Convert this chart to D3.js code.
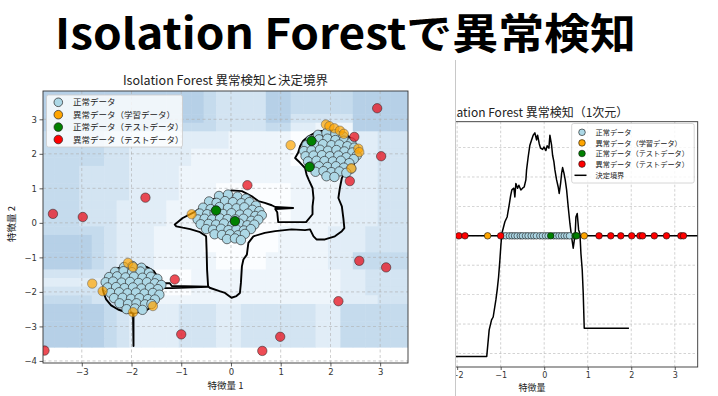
<!DOCTYPE html>
<html>
<head>
<meta charset="utf-8">
<script src="https://cdn.jsdelivr.net/npm/d3@7"></script>
<style>
  body { margin: 0; background: #fff; }
  svg { display: block; font-family: "Noto Sans CJK JP", "Noto Sans", sans-serif; }
</style>
</head>
<body>
<svg id="chart" width="718" height="396"></svg>
<script>
// ---- 2D chart data (feature 1, feature 2) ----
var normal2d = [
  [-0.24,0.78],[-0.06,0.82],[0.13,0.76],[0.3,0.7],
  [-0.44,0.62],[-0.29,0.58],[-0.12,0.63],[0.04,0.6],[0.21,0.57],[0.37,0.6],[0.5,0.5],
  [-0.56,0.44],[-0.41,0.4],[-0.23,0.46],[-0.06,0.43],[0.11,0.42],[0.27,0.45],[0.43,0.38],[0.57,0.34],
  [-0.63,0.27],[-0.48,0.25],[-0.33,0.29],[-0.16,0.26],[0.01,0.28],[0.18,0.24],[0.34,0.27],[0.49,0.2],[0.62,0.22],
  [-0.67,0.1],[-0.53,0.12],[-0.38,0.1],[-0.22,0.13],[-0.07,0.11],[0.09,0.1],[0.25,0.12],[0.41,0.06],[0.55,0.09],
  [-0.61,-0.04],[-0.45,-0.03],[-0.3,-0.05],[-0.14,-0.02],[0.03,-0.06],[0.17,-0.02],[0.33,-0.07],[0.47,-0.05],
  [-0.5,-0.18],[-0.36,-0.2],[-0.2,-0.17],[-0.05,-0.21],[0.11,-0.19],[0.26,-0.22],[0.4,-0.18],
  [-0.33,-0.33],[-0.18,-0.35],[-0.02,-0.33],[0.14,-0.36],[0.28,-0.32],
  [-0.08,-0.47],[0.08,-0.45],[0.2,-0.5],
  [1.75,2.55],[1.92,2.6],[2.1,2.57],[2.26,2.5],
  [1.6,2.4],[1.77,2.42],[1.94,2.44],[2.1,2.4],[2.27,2.38],[2.42,2.33],
  [1.52,2.25],[1.68,2.26],[1.85,2.28],[2.02,2.25],[2.18,2.27],[2.34,2.22],[2.48,2.18],
  [1.47,2.08],[1.62,2.1],[1.79,2.12],[1.95,2.09],[2.12,2.11],[2.28,2.07],[2.44,2.04],[2.53,1.95],
  [1.5,1.93],[1.66,1.95],[1.83,1.96],[1.99,1.93],[2.16,1.95],[2.32,1.9],[2.47,1.85],
  [1.55,1.78],[1.72,1.8],[1.88,1.79],[2.05,1.78],[2.21,1.8],[2.38,1.73],
  [1.6,1.63],[1.77,1.64],[1.94,1.62],[2.11,1.64],[2.27,1.6],[2.42,1.57],
  [1.7,1.48],[1.86,1.5],[2.02,1.47],[2.18,1.49],[2.32,1.45],
  [1.92,1.35],[2.08,1.33],
  [-2.15,-1.28],[-1.98,-1.25],[-1.8,-1.3],
  [-2.33,-1.42],[-2.16,-1.4],[-1.99,-1.43],[-1.82,-1.41],[-1.65,-1.45],
  [-2.45,-1.57],[-2.29,-1.55],[-2.12,-1.58],[-1.95,-1.56],[-1.78,-1.59],[-1.61,-1.56],[-1.48,-1.62],
  [-2.52,-1.72],[-2.37,-1.7],[-2.2,-1.73],[-2.03,-1.71],[-1.86,-1.74],[-1.69,-1.72],[-1.53,-1.75],[-1.4,-1.8],
  [-2.48,-1.87],[-2.31,-1.86],[-2.14,-1.89],[-1.97,-1.87],[-1.8,-1.9],[-1.63,-1.88],[-1.47,-1.92],
  [-2.42,-2.03],[-2.25,-2.01],[-2.08,-2.04],[-1.91,-2.02],[-1.74,-2.05],[-1.57,-2.03],[-1.44,-2.08],
  [-2.35,-2.18],[-2.18,-2.17],[-2.01,-2.2],[-1.84,-2.18],[-1.67,-2.21],[-1.53,-2.22],
  [-2.24,-2.33],[-2.07,-2.35],[-1.9,-2.33],[-1.73,-2.36],[-1.6,-2.35],
  [-2.1,-2.5],[-1.93,-2.48],[-1.78,-2.52]
];
var trainAnom2d = [
  [-0.79,0.25],
  [1.91,2.85],[1.98,2.8],[2.08,2.74],[2.19,2.67],[2.27,2.58],[1.2,2.25],[2.56,2.15],[2.58,2.05],[2.42,1.58],
  [-2.07,-1.16],[-1.97,-1.28],[-2.79,-1.76],[-2.58,-1.98],[-1.57,-2.41],[-1.97,-2.59]
];
var testNormal2d = [[-0.3,0.36],[0.08,0.05],[1.62,2.37],[1.58,1.62]];
var testAnom2d = [
  [-3.58,0.26],[-2.98,0.17],[-1.72,0.73],[2.94,3.32],[2.48,2.49],[3.02,1.93],[2.39,1.21],[0.33,1.09],
  [-1.13,-1.64],[-1.0,-3.23],[-3.75,-3.7],[2.58,-1.1],[3.12,-1.29],[2.16,-2.27],[0.99,-3.3],[0.63,-3.71]
];

// anomaly score shade level per 0.25 x 0.25 cell
// columns from x = -3.8, rows from y = 3.9 downwards
var scoreRows = [
  "555555555555543333554444455555",
  "555555555555543333554444455555",
  "555555555555543333554444455555",
  "555555555555543333553333355555",
  "555555555444443333442211155555",
  "444443322222222111110000022333",
  "444443322222222111110000022333",
  "444443322222111111110000022333",
  "444443322222111111110000022333",
  "444333322221111111111111222333",
  "444333322221111111111111222333",
  "444333322221110000001111222333",
  "444333322221110000001111222333",
  "444333222211100000001111222333",
  "444333222211100000001111222333",
  "444333222211100000001111222333",
  "444443222111100000011112223333",
  "555543222111100000011112223333",
  "555543222111100000011112223333",
  "555543222111110000111112244444",
  "555543222111110000111112244444",
  "333333000000111111111111223333",
  "222222000000111111111111223333",
  "333332000000111111111111223333",
  "444433111111111111111111222333",
  "555554322223332233333322444444",
  "555554322223332233333322444444",
  "555554322223332233333322444444",
  "555554322223332233333322444444",
  "555554322223332233333322444444"
];
var shades = ["#fbfdff", "#eef5fb", "#e1edf7", "#d3e4f2", "#c5dbed", "#b6d0e7"];

// decision boundary (score = 0) traced as polylines
var boundaryMain = [
  [-1.13,-0.05],[-0.97,0.14],[-0.7,0.34],[-0.43,0.63],[-0.23,0.77],[-0.1,0.87],[0.01,0.94],[0.22,0.92],
  [0.42,0.77],[0.55,0.63],[0.68,0.58],[0.82,0.51],[0.89,0.46],[1.25,0.43],[0.89,0.4],[0.93,0.31],
  [0.95,0.02],[1.51,0.02],[1.64,0.25],[1.64,0.48],[1.66,0.72],[1.64,1.01],[1.56,1.26],[1.52,1.4],
  [1.49,1.59],[1.39,1.74],[1.29,1.88],[1.35,2.03],[1.39,2.22],[1.45,2.37],[1.56,2.51],[1.69,2.61],
  [1.82,2.66],[2.03,2.68],[2.23,2.61],[2.36,2.51],[2.46,2.37],[2.49,2.13],[2.51,1.88],[2.46,1.64],
  [2.36,1.5],[2.29,1.45],[2.23,1.3],[2.19,1.01],[2.16,0.72],[2.23,0.48],[2.26,0.14],[2.28,-0.15],
  [2.23,-0.24],[2.09,-0.39],[1.89,-0.48],[1.72,-0.48],[1.66,-0.39],[1.59,-0.19],[1.49,-0.21],[1.22,-0.19],
  [0.89,-0.24],[0.68,-0.29],[0.45,-0.39],[0.35,-0.58],[0.32,-0.92],[0.25,-1.06],[0.22,-1.26],[0.2,-1.74],
  [0.18,-2.03],[0.11,-2.12],[0.01,-2.17],[-0.12,-2.03],[-0.23,-1.98],[-0.43,-1.88],[-0.46,-1.83],
  [-0.48,-1.37],[-0.49,-0.79],[-0.5,-0.39],[-0.62,-0.27],[-0.82,-0.18],[-0.97,-0.14],[-1.1,-0.1]
];
var boundaryLeft = [
  [-2.58,-1.92],[-2.52,-1.69],[-2.41,-1.49],[-2.27,-1.31],[-2.09,-1.23],[-1.89,-1.23],[-1.69,-1.28],
  [-1.55,-1.4],[-1.47,-1.57],[-1.43,-1.72],[-1.37,-1.75],[-1.23,-1.75],[-1.19,-1.83],[-0.46,-1.85],
  [-1.19,-1.89],[-1.39,-1.89],[-1.42,-2.03],[-1.47,-2.27],[-1.57,-2.41],[-1.7,-2.53],[-1.87,-2.59],
  [-1.96,-2.61],[-1.96,-3.57],[-1.97,-2.61],[-2.11,-2.59],[-2.27,-2.51],[-2.41,-2.39],[-2.51,-2.22],
  [-2.56,-2.03]
];

// ---- 1D chart data ----
var normal1d = [-0.95,-0.88,-0.8,-0.74,-0.68,-0.62,-0.55,-0.5,-0.43,-0.37,-0.3,-0.24,-0.18,-0.1,
  -0.04,0.03,0.09,0.22,0.28,0.34,0.4,0.46,0.52,0.58];
var trainAnom1d = [-1.3, 0.92];
var testNormal1d = [0.15, 0.71, 0.745];
var testAnom1d = [-1.96,-1.82,-1.0,1.26,1.53,1.76,2.01,2.2,2.26,2.53,2.81,3.14,3.2];
var curve1d = [
  [-4.1,-0.205],[-1.32,-0.205],[-1.264,-0.16],[-1.209,-0.143],[-1.172,-0.138],[-1.11,-0.109],
  [-1.08,-0.092],[-1.048,-0.07],[-1.018,-0.041],[-0.995,-0.016],[-0.972,0.004],[-0.903,0.024],
  [-0.851,0.032],[-0.805,0.052],[-0.772,0.068],[-0.743,0.078],[-0.697,0.081],[-0.674,0.066],
  [-0.651,0.089],[-0.611,0.081],[-0.582,0.086],[-0.536,0.078],[-0.497,0.081],[-0.46,0.083],
  [-0.421,0.095],[-0.405,0.112],[-0.368,0.134],[-0.329,0.154],[-0.29,0.163],[-0.253,0.171],
  [-0.214,0.175],[-0.175,0.163],[-0.152,0.171],[-0.115,0.157],[-0.083,0.149],[-0.037,0.147],
  [-0.007,0.151],[0.039,0.145],[0.069,0.153],[0.108,0.149],[0.131,0.171],[0.17,0.154],
  [0.193,0.137],[0.223,0.126],[0.246,0.112],[0.285,0.095],[0.322,0.083],[0.345,0.072],
  [0.377,0.089],[0.4,0.106],[0.423,0.116],[0.453,0.107],[0.483,0.095],[0.515,0.078],
  [0.552,0.049],[0.591,0.021],[0.63,-0.002],[0.667,-0.021],[0.713,0.004],[0.729,0.032],
  [0.759,0.038],[0.791,0.01],[0.821,0.004],[0.844,-0.03],[0.874,-0.058],[0.897,-0.098],
  [0.92,-0.157],[1.947,-0.157]
];

var pointLabels = ["正常データ", "異常データ（学習データ）", "正常データ（テストデータ）", "異常データ（テストデータ）"];
var lineLabel = "決定境界";
var pointColors = ["lightblue", "orange", "green", "red"];

var svg = d3.select("#chart");
var defs = svg.append("defs");
svg.append("rect").attr("width", 718).attr("height", 396).attr("fill", "#fff");

function fmtMinus(d) { return String(d).replace("-", "\u2212"); }

// slide title
svg.append("text")
    .attr("x", 55).attr("y", 48.7)
    .attr("font-size", 42).attr("font-weight", 700).attr("fill", "#000")
    .attr("textLength", 581).attr("lengthAdjust", "spacingAndGlyphs")
    .text("Isolation Forestで異常検知");

// left edge of the pasted 1D image
svg.append("line")
    .attr("x1", 455.5).attr("x2", 455.5).attr("y1", 60).attr("y2", 396)
    .attr("stroke", "#c8c8c8").attr("stroke-width", 1);

draw2d();
draw1d();

function styleAxis(sel, size) {
  sel.select(".domain").remove();
  sel.selectAll(".tick line").attr("stroke", "#333").attr("stroke-width", 0.8);
  sel.selectAll(".tick text").attr("fill", "#333").attr("font-size", size)
      .attr("font-family", "'DejaVu Sans', sans-serif");
}

function draw2d() {
  var x = d3.scaleLinear().domain([-3.78, 3.56]).range([43, 408]);
  var y = d3.scaleLinear().domain([-4.06, 3.82]).range([363, 91]);
  var g = svg.append("g");

  defs.append("clipPath").attr("id", "clip2d")
    .append("rect").attr("x", 43).attr("y", 91).attr("width", 365).attr("height", 272);
  var plot = g.append("g").attr("clip-path", "url(#clip2d)");

  // filled score background
  var gridX0 = -3.8, gridY1 = 3.9, step = 0.25;
  var cells = [];
  scoreRows.forEach(function(row, r) {
    row.split("").forEach(function(ch, c) {
      cells.push({ x0: gridX0 + c * step, y1: gridY1 - r * step, level: +ch });
    });
  });
  var cw = x(step) - x(0), ch = y(0) - y(step);
  plot.selectAll("rect.cell").data(cells).enter().append("rect")
      .attr("class", "cell")
      .attr("x", function(d) { return x(d.x0); })
      .attr("y", function(d) { return y(d.y1); })
      .attr("width", cw + 0.5).attr("height", ch + 0.5)
      .attr("fill", function(d) { return shades[d.level]; });

  // grid
  var xt = [-3, -2, -1, 0, 1, 2, 3], yt = [-4, -3, -2, -1, 0, 1, 2, 3];
  plot.selectAll("line.gx").data(xt).enter().append("line")
      .attr("x1", x).attr("x2", x).attr("y1", 91).attr("y2", 363);
  plot.selectAll("line.gy").data(yt).enter().append("line")
      .attr("y1", y).attr("y2", y).attr("x1", 43).attr("x2", 408);
  plot.selectAll("line").attr("stroke", "#b0b0b0").attr("stroke-width", 0.8)
      .attr("stroke-dasharray", "3,2.5").attr("opacity", 0.8);

  // decision boundary
  var line = d3.line().x(function(d) { return x(d[0]); }).y(function(d) { return y(d[1]); });
  [boundaryMain, boundaryLeft].forEach(function(b) {
    plot.append("path").attr("d", line(b) + "Z")
        .attr("fill", "none").attr("stroke", "#000").attr("stroke-width", 1.9)
        .attr("stroke-linejoin", "round");
  });

  // points
  function dots(data, fill, op, stroke) {
    plot.append("g").selectAll("circle").data(data).enter().append("circle")
        .attr("cx", function(d) { return x(d[0]); })
        .attr("cy", function(d) { return y(d[1]); })
        .attr("r", 4.7)
        .attr("fill", fill).attr("fill-opacity", op)
        .attr("stroke", stroke).attr("stroke-width", 0.7).attr("stroke-opacity", op);
  }
  dots(normal2d, "lightblue", 1, "#333");
  dots(trainAnom2d, "orange", 0.7, "#555");
  dots(testNormal2d, "green", 1, "#111");
  dots(testAnom2d, "#e8101c", 0.75, "#222");

  // frame
  g.append("rect").attr("x", 43).attr("y", 91).attr("width", 365).attr("height", 272)
      .attr("fill", "none").attr("stroke", "#333").attr("stroke-width", 0.9);

  g.append("g").attr("transform", "translate(0,363)")
      .call(d3.axisBottom(x).tickValues(xt).tickSize(3.5).tickPadding(2).tickFormat(fmtMinus))
      .call(styleAxis, 8.5);
  g.append("g").attr("transform", "translate(43,0)")
      .call(d3.axisLeft(y).tickValues(yt).tickSize(3.5).tickPadding(2.5).tickFormat(fmtMinus))
      .call(styleAxis, 8.5);

  g.append("text").attr("x", 225.5).attr("y", 85).attr("text-anchor", "middle")
      .attr("font-size", 12.5).attr("fill", "#222").text("Isolation Forest 異常検知と決定境界");
  g.append("text").attr("x", 225.5).attr("y", 389).attr("text-anchor", "middle")
      .attr("font-size", 9.5).attr("fill", "#222").text("特徴量 1");
  g.append("text").attr("transform", "translate(15,224) rotate(-90)").attr("text-anchor", "middle")
      .attr("font-size", 9.5).attr("fill", "#222").text("特徴量 2");

  // legend
  var lg = g.append("g");
  lg.append("rect").attr("x", 46.5).attr("y", 95).attr("width", 136).attr("height", 52).attr("rx", 2)
      .attr("fill", "#fff").attr("fill-opacity", 0.8).attr("stroke", "#ccc").attr("stroke-width", 0.8);
  pointLabels.forEach(function(t, i) {
    var yy = 102.3 + i * 12.4;
    lg.append("circle").attr("cx", 58.3).attr("cy", yy).attr("r", 4.3)
        .attr("fill", pointColors[i]).attr("stroke", "#222").attr("stroke-width", 0.7);
    lg.append("text").attr("x", 73).attr("y", yy + 3).attr("font-size", 8.5).attr("fill", "#222").text(t);
  });
}

function draw1d() {
  var x = d3.scaleLinear().domain([-4.14, 3.527]).range([364, 697.7]);
  var y = d3.scaleLinear().domain([-0.223, 0.194]).range([367, 121.7]);

  defs.append("clipPath").attr("id", "clipImg")
    .append("rect").attr("x", 456).attr("y", 0).attr("width", 262).attr("height", 396);
  defs.append("clipPath").attr("id", "clip1d")
    .append("rect").attr("x", 364).attr("y", 121.7).attr("width", 333.7).attr("height", 245.3);

  var g = svg.append("g").attr("clip-path", "url(#clipImg)");
  var plot = g.append("g").attr("clip-path", "url(#clip1d)");

  var xt = [-4, -3, -2, -1, 0, 1, 2, 3];
  var yt = [-0.2, -0.15, -0.1, -0.05, 0, 0.05, 0.1, 0.15];
  plot.selectAll("line.gx").data(xt).enter().append("line")
      .attr("x1", x).attr("x2", x).attr("y1", 121.7).attr("y2", 367);
  plot.selectAll("line.gy").data(yt).enter().append("line")
      .attr("y1", y).attr("y2", y).attr("x1", 364).attr("x2", 697.7);
  plot.selectAll("line").attr("stroke", "#b0b0b0").attr("stroke-width", 0.7)
      .attr("stroke-dasharray", "2.5,2").attr("opacity", 0.8);

  // zero line
  plot.append("line").attr("x1", 364).attr("x2", 697.7).attr("y1", y(0)).attr("y2", y(0))
      .attr("stroke", "#000").attr("stroke-width", 1.4);

  var line = d3.line().x(function(d) { return x(d[0]); }).y(function(d) { return y(d[1]); });
  plot.append("path").attr("d", line(curve1d)).attr("fill", "none")
      .attr("stroke", "#000").attr("stroke-width", 1.5).attr("stroke-linejoin", "round");

  [normal1d, trainAnom1d, testNormal1d, testAnom1d].forEach(function(arr, i) {
    plot.append("g").selectAll("circle").data(arr).enter().append("circle")
        .attr("cx", function(d) { return x(d); }).attr("cy", y(0)).attr("r", 3.3)
        .attr("fill", pointColors[i]).attr("stroke", "#111").attr("stroke-width", 0.6);
  });

  g.append("rect").attr("x", 364).attr("y", 121.7).attr("width", 333.7).attr("height", 245.3)
      .attr("fill", "none").attr("stroke", "#333").attr("stroke-width", 0.9);

  g.append("g").attr("transform", "translate(0,367)")
      .call(d3.axisBottom(x).tickValues(xt).tickSize(3).tickPadding(2).tickFormat(fmtMinus))
      .call(styleAxis, 8);

  // title: left part is cut off by the image edge, "ation" starts at the edge
  var title = g.append("text").attr("y", 117)
      .attr("font-size", 12).attr("fill", "#222").text("Isolation Forest 異常検知（1次元）");
  var probe = g.append("text").attr("font-size", 12).text("Isol");
  var cut = probe.node().getComputedTextLength();
  probe.remove();
  title.attr("x", 456.5 - cut);

  g.append("text").attr("x", 532).attr("y", 391).attr("text-anchor", "middle")
      .attr("font-size", 9).attr("fill", "#222").text("特徴量");

  var lg = g.append("g");
  lg.append("rect").attr("x", 571.7).attr("y", 123.5).attr("width", 122.5).attr("height", 59.5).attr("rx", 2)
      .attr("fill", "#fff").attr("fill-opacity", 0.8).attr("stroke", "#ccc").attr("stroke-width", 0.8);
  pointLabels.forEach(function(t, i) {
    var yy = 132.3 + i * 10.6;
    lg.append("circle").attr("cx", 582).attr("cy", yy).attr("r", 3.3)
        .attr("fill", pointColors[i]).attr("stroke", "#111").attr("stroke-width", 0.6);
    lg.append("text").attr("x", 595.5).attr("y", yy + 2.6).attr("font-size", 7.2).attr("fill", "#222").text(t);
  });
  lg.append("line").attr("x1", 574.5).attr("x2", 586.5).attr("y1", 175.3).attr("y2", 175.3)
      .attr("stroke", "#000").attr("stroke-width", 1.5);
  lg.append("text").attr("x", 595.5).attr("y", 178).attr("font-size", 7.2).attr("fill", "#222").text(lineLabel);
}
</script>
</body>
</html>
